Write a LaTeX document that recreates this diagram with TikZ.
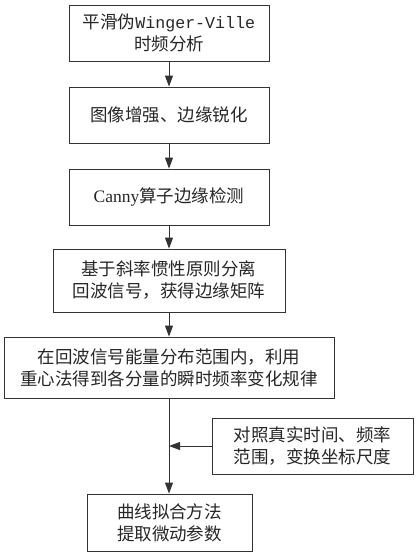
\documentclass[tikz,border=0pt]{standalone}
\usepackage{fontspec}
\setmainfont{Liberation Serif}
\setmonofont[Scale=0.95]{Liberation Mono}
\newfontfamily\cjk{Noto Sans CJK SC}
\usetikzlibrary{arrows.meta}

\tikzset{
	stepbox/.style={draw=black!80,line width=0.9pt,inner sep=0pt,minimum height=56pt,
		align=center,text=black!85,font=\fontsize{17.5}{22}\selectfont\cjk},
	flow/.style={draw=black!80,line width=0.9pt,-{Triangle[length=11pt,width=8pt]}}
}

\begin{document}
\begin{tikzpicture}[x=1pt,y=-1pt]
	\useasboundingbox (0,0) rectangle (416,555);
	% main chain
	\node[stepbox,minimum width=200pt] (wvd) at (169,33) {平滑伪{\ttfamily Winger-Ville}\\时频分析};
	\node[stepbox,minimum width=200pt] (enh) at (169,115) {图像增强、边缘锐化};
	\node[stepbox,minimum width=200pt] (canny) at (169,197) {{\rmfamily Canny}算子边缘检测};
	\node[stepbox,minimum width=232pt,minimum height=63pt] (sep) at (169,280.5) {基于斜率惯性原则分离\\回波信号，获得边缘矩阵};
	\node[stepbox,minimum width=330pt,minimum height=61pt] (ifr) at (169,367.5) {在回波信号能量分布范围内，利用\\重心法得到各分量的瞬时频率变化规律};
	\node[stepbox,minimum width=165pt,minimum height=57pt] (fit) at (169.5,522.5) {曲线拟合方法\\提取微动参数};
	% side input
	\node[stepbox,minimum width=201pt] (scale) at (312.5,446) {对照真实时间、频率\\范围，变换坐标尺度};
	\coordinate (join) at (169,446);

	\draw[flow] (wvd) -- (enh);
	\draw[flow] (enh) -- (canny);
	\draw[flow] (canny) -- (sep);
	\draw[flow] (sep) -- (ifr);
	\draw[flow] (ifr.south) -- (fit.north -| ifr.south);
	\draw[flow] (scale) -- (join);
\end{tikzpicture}
\end{document}
